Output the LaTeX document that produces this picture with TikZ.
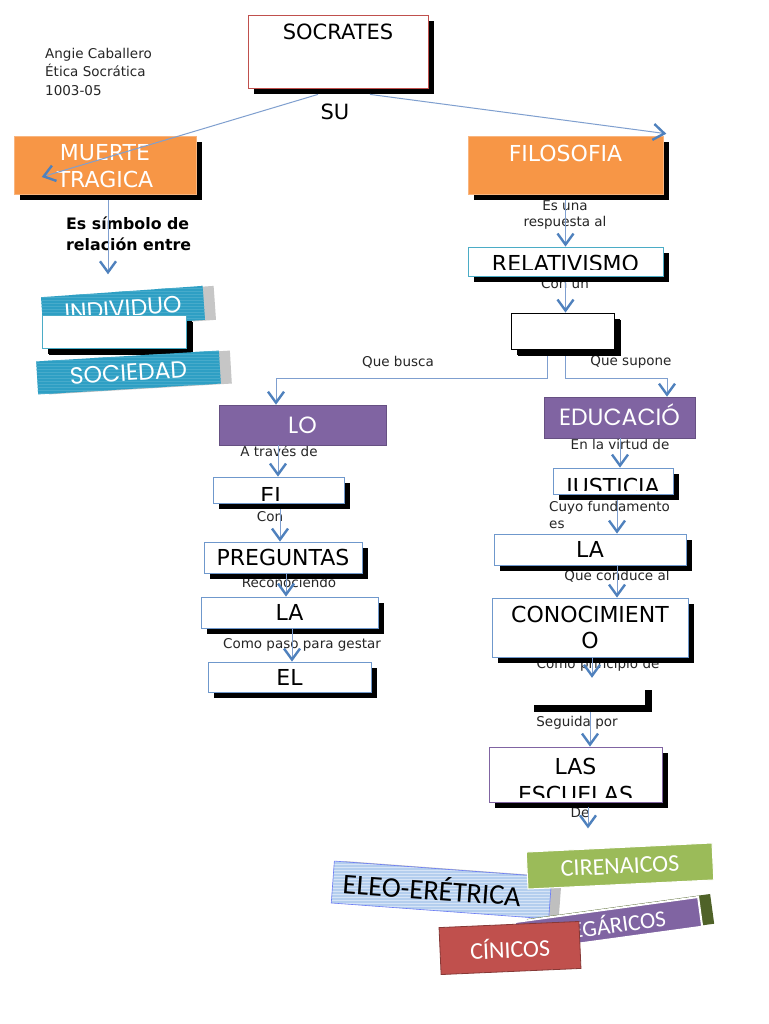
\documentclass[tikz,border=0pt]{standalone}
\usepackage{fontspec}
\setmainfont{DejaVu Sans}
\newfontfamily\popfont{Poppins}
\newfontfamily\carfont{Carlito}
\usetikzlibrary{arrows.meta,shadows,calc,patterns}
\definecolor{orangeA}{HTML}{F79646}
\definecolor{purpA}{HTML}{8064A2}
\definecolor{tealA}{HTML}{2E9FC4}
\definecolor{tealB}{HTML}{4BACC6}
\definecolor{greenA}{HTML}{9BBB59}
\definecolor{redA}{HTML}{C0504D}
\definecolor{ltblue}{HTML}{B4CEEE}
\definecolor{chevc}{HTML}{4F81BD}
\definecolor{linec}{HTML}{7F9FCF}
\definecolor{boxc}{HTML}{6F98CC}
\definecolor{olivA}{HTML}{4F6228}
\newcommand\myBig{\fontsize{22}{26}\selectfont}
\newcommand\myPop{\fontsize{23.5}{27}\selectfont}
\newcommand\mySmall{\fontsize{13.5}{16}\selectfont}
\begin{document}
\begin{tikzpicture}[x=1pt,y=-1pt,
  conn/.style={draw=linec, line width=1pt, -{Straight Barb[length=11pt,width=16pt,line width=2.4pt,color=chevc]}},
  shad/.style={drop shadow={shadow xshift=6pt,shadow yshift=-6pt,opacity=1,fill=black}},
  shadb/.style={drop shadow={shadow xshift=7pt,shadow yshift=-7pt,opacity=1,fill=black}},
  wbox/.style={draw=#1, fill=white, line width=0.8pt, inner sep=0pt, shad, text=black, font=\myBig},
  wbox/.default=boxc,
  obox/.style={shad, fill=orangeA, draw=orangeA!70!white, line width=0.6pt, inner sep=0pt, text=white},
  pbox/.style={fill=purpA, draw=purpA!80!black, line width=0.6pt, inner sep=0pt, text=white, font=\popfont\myPop, text height=16pt, text depth=0pt},
  banner/.style={drop shadow={shadow xshift=11pt,shadow yshift=0pt,opacity=1,fill=gray!45}, preaction={fill=tealA}, pattern=horizontal lines, pattern color=tealA!88!white, inner sep=0pt, text=white, font=\popfont\myPop},
  lbl/.style={font=\mySmall, text=black!85, inner sep=0pt, align=center},
  bottomlbl/.style={inner sep=0pt, font=\carfont\fontsize{24}{28}\selectfont}
]
\useasboundingbox[fill=white] (0,0) rectangle (768,1024);

% ---- texts outside boxes
\node[lbl, anchor=north west, align=left, font=\fontsize{13.5}{18.5}\selectfont] (auth) at (45,48) {Angie Caballero\\Ética Socrática\\1003-05};
\node[inner sep=0pt, font=\fontsize{21}{25}\selectfont] (su) at (335,112) {SU};
\node[lbl, anchor=west, align=left, text=black, font=\bfseries\fontsize{15.8}{21}\selectfont] (l1) at (66,234) {Es símbolo de\\relación entre};
\node[lbl] (l2) at (565,215) {Es una\\respuesta al};
\node[lbl] (l3) at (565,284) {Con un};
\node[lbl] (l4) at (398,362) {Que busca};
\node[lbl] (l5) at (631,362) {Que supone};
\node[lbl] (l6) at (279,451) {A través de};
\node[lbl] (l7) at (270,517) {Con};
\node[lbl] (l8) at (289,582) {Reconociendo};
\node[lbl] (l9) at (302,645) {Como paso para gestar};
\node[lbl] (l10) at (620,444) {En la virtud de};
\node[lbl, anchor=west, align=left, font=\fontsize{13.5}{17}\selectfont] (l11) at (549,515) {Cuyo fundamento\\es};
\node[lbl] (l12) at (617,576) {Que conduce al};
\node[lbl] (l13) at (598,665) {Como principio de};
\node[lbl] (l14) at (577,723) {Seguida por};
\node[lbl] (l15) at (580,813) {De};

% ---- top boxes
\node[wbox=redA, minimum width=180pt, minimum height=73pt,
  path picture={\node[anchor=base,font=\fontsize{21}{25}\selectfont] at ($(path picture bounding box.north)+(0,25)$) {SOCRATES};}] (soc) at (338,51.5) {};
\node[obox, minimum width=182pt, minimum height=58pt,
  path picture={\node[anchor=base,text=white,font=\myBig] at ($(path picture bounding box.north)+(0,25)$) {MUERTE};
    \node[anchor=base,text=white,font=\myBig] at ($(path picture bounding box.north)+(0,52)$) {TRAGICA};}] (muerte) at (105,165) {};
\node[obox, minimum width=195pt, minimum height=58pt,
  path picture={\node[anchor=base,text=white,font=\myBig] at ($(path picture bounding box.north)+(0,26)$) {FILOSOFIA};}] (fil) at (565.5,165) {};

% ---- left banners
\node[banner, minimum width=162pt, minimum height=34pt, rotate=4] (indb) at (123,308.5) {INDIVIDUO};
\node[wbox=tealB, shadb, minimum width=144pt, minimum height=33pt] (indw) at (114,331.5) {};
\node[banner, minimum width=183pt, minimum height=33pt, rotate=3.4] (socb) at (128.5,372.5) {SOCIEDAD};

% ---- right column
\node[wbox=tealB, minimum width=195pt, minimum height=29pt,
  path picture={\clip (path picture bounding box.north west) rectangle ($(path picture bounding box.south east)+(0,-6.5)$);
    \node[anchor=base,font=\myBig] at ($(path picture bounding box.north)+(0,24)$) {RELATIVISMO};}] (rel) at (565.5,261.5) {};
\node[wbox=black, shadb, minimum width=103pt, minimum height=36pt] (emp) at (562.5,331) {};
\node[pbox, minimum width=151pt, minimum height=41pt] (edu) at (619.5,417.5) {EDUCACIÓ};
\node[wbox, minimum width=120pt, minimum height=26pt,
  path picture={\clip (path picture bounding box.north west) rectangle ($(path picture bounding box.south east)+(0,-4)$);
    \node[anchor=base,font=\myBig] at ($(path picture bounding box.north)+(0,26)$) {JUSTICIA};}] (jus) at (613,481) {};
\node[wbox, minimum width=192pt, minimum height=31pt] (la2) at (590,549.5) {LA};
\node[wbox, minimum width=196pt, minimum height=59pt, align=center, font=\fontsize{22}{26}\selectfont] (cono) at (590,627.5) {CONOCIMIENT\\O};
\node[fill=white, shadb, inner sep=0pt, minimum width=118pt, minimum height=22pt] (blank) at (586,694) {};
\node[wbox=purpA, minimum width=173pt, minimum height=55pt,
  path picture={\clip (path picture bounding box.north west) rectangle ($(path picture bounding box.south east)+(0,-5)$);
    \node[anchor=base,font=\myBig] at ($(path picture bounding box.north)+(0,27)$) {LAS};
    \node[anchor=base,font=\myBig] at ($(path picture bounding box.north)+(0,55)$) {ESCUELAS};}] (esc) at (575.5,774.5) {};

% ---- left column
\node[pbox, minimum width=167pt, minimum height=40pt] (lo) at (302.5,425) {LO};
\node[wbox, minimum width=131pt, minimum height=26pt,
  path picture={\clip (path picture bounding box.north west) rectangle ($(path picture bounding box.south east)+(0,-3)$);
    \node[anchor=base,font=\myBig] at ($(path picture bounding box.north)+(-5,26)$) {EL};}] (el1) at (278.5,490) {};
\node[wbox, minimum width=158pt, minimum height=31pt] (preg) at (283,557.5) {PREGUNTAS};
\node[wbox, minimum width=177pt, minimum height=31pt] (la1) at (289.5,612.5) {LA};
\node[wbox, minimum width=163pt, minimum height=30pt] (el2) at (289.5,677) {EL};

% ---- bottom cluster
\node[drop shadow={shadow xshift=10pt,shadow yshift=0pt,opacity=1,fill=gray!50}, preaction={fill=ltblue}, pattern=horizontal lines, pattern color=white!45!ltblue, draw=ltblue!60!blue, line width=0.6pt, inner sep=0pt, minimum width=218pt, minimum height=42pt, rotate=-4.2] (eleo) at (441.5,890) {};
\node[bottomlbl, rotate=-4.2, font=\carfont\fontsize{28.5}{32}\selectfont, text=black] (eleot) at (432,888) {ELEO-ERÉTRICA};
\node[bottomlbl, fill=greenA, draw=white, line width=1pt, minimum width=186pt, minimum height=37pt, rotate=2.8, text=white] (cir) at (620,866) {CIRENAICOS};
\node[bottomlbl, drop shadow={shadow xshift=12pt,shadow yshift=3pt,opacity=1,fill=olivA}, fill=purpA, draw=white, line width=2pt, minimum width=185pt, minimum height=30pt, rotate=7.8, text=white, font=\carfont\fontsize{23}{28}\selectfont] (meg) at (608.5,924.4) {MEGÁRICOS};
\node[bottomlbl, fill=redA, draw=redA!70!black, line width=0.8pt, minimum width=140pt, minimum height=47pt, rotate=2.5, text=white] (cin) at (510,948) {CÍNICOS};

% ---- connectors
\draw[conn] ($(soc.south)+(-20,6)$) -- ($(muerte.west)+(28,12)$);
\draw[conn] ($(soc.south)+(32,6)$) -- ($(fil.north east)+(3,-2)$);
\draw[conn] ($(muerte.south)+(3,6)$) -- ($(muerte.south)+(3,80)$);
\draw[conn] ($(fil.south)+(0,6)$) -- (rel.north);
\draw[conn] ($(rel.south)+(0,6)$) -- ($(emp.north)+(3,0)$);
\draw[conn] ($(emp.south)+(-15.5,7)$) -- ++(0,22) -| ($(lo.north)+(-26.5,0)$);
\draw[conn] ($(emp.south)+(2.5,7)$) -- ++(0,22) -| ($(edu.north)+(47.5,0)$);
\draw[conn] ($(lo.south)+(-24.5,0)$) -- ($(el1.north)+(-0.5,0)$);
\draw[conn] ($(el1.south)+(1.5,6)$) -- ($(preg.north)+(-3,0)$);
\draw[conn] ($(preg.south)+(3,0)$) -- ($(la1.north)+(-3.5,0)$);
\draw[conn] ($(la1.south)+(2.5,0)$) -- ($(el2.north)+(2.5,0)$);
\draw[conn] ($(edu.south)+(0.5,0)$) -- ($(jus.north)+(7,0)$);
\draw[conn] ($(jus.south)+(4,6)$) -- ($(la2.north)+(27,0)$);
\draw[conn] ($(la2.south)+(27,0)$) -- ($(cono.north)+(27,0)$);
\draw[conn] ($(cono.south)+(2,0)$) -- ($(blank.north)+(6,-5)$);
\draw[conn] ($(blank.south)+(4,7)$) -- ($(esc.north)+(14.5,0)$);
\draw[conn] ($(esc.south)+(12.5,5)$) -- ($(esc.south)+(12.5,26)$);
\end{tikzpicture}
\end{document}
